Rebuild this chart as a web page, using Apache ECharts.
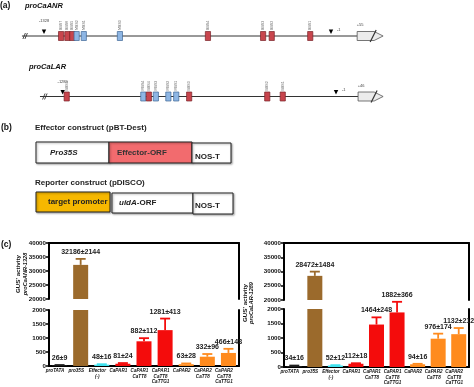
<!DOCTYPE html>
<html><head><meta charset="utf-8">
<script src="https://cdn.jsdelivr.net/npm/echarts@6/dist/echarts.min.js"></script>
<style>html,body{margin:0;padding:0;background:#fff}#c{width:474px;height:387px}</style>
</head><body><div id="c"></div>
<script>
// ---------- data ----------
const categories = ['proTATA','pro35S','Effector\n(-)','CaPAR1','CaPAR1\nCaTT8','CaPAR1\nCaTT8\nCaTTG1','CaPAR2','CaPAR2\nCaTT8','CaPAR2\nCaTT8\nCaTTG1'];
const groupOf = ['tata','p35s','eff','par1','par1','par1','par2','par2','par2'];
const anrMean = [26,32186,48,81,882,1281,63,332,466];
const anrErr  = [9,2144,16,24,112,413,28,96,148];
const larMean = [34,28472,52,112,1464,1882,94,976,1132];
const larErr  = [16,1484,12,18,248,366,16,174,212];
const lowerRange = [0,2000], lowerStep = 500;
const upperRange = [20000,40000], upperStep = 5000;

// promoter sites (bp relative to TSS)
const anrSites = [[-1249,'BBS7'],[-1220,'BBS6'],[-1197,'BBS5'],[-1177,'MBS2'],[-1144,'MBS1'],[-977,'MBS3'],[-570,'BBS4'],[-315,'BBS3'],[-275,'BBS2'],[-97,'BBS1']];
const larSites = [[-1270,'BBS5'],[-909,'MBS4'],[-883,'BBS4'],[-850,'MBS3'],[-791,'MBS2'],[-754,'MBS1'],[-693,'BBS3'],[-325,'BBS2'],[-252,'BBS1']];
const anrMarks = [[-1328,'-1328'],[-1,'-1']];
const larMarks = [[-1289,'-1289'],[-1,'-1']];
const anrBackbone = [-1430,-1414];   // start, break mark
const larBackbone = [-1396,-1372];
const anrGene = [120,240,'+55'];
const larGene = [103,221,'+46'];

// ---------- styles ----------
const FONT = 'Liberation Sans, Arial, sans-serif';
const COLORS = {tata:'#1e1e1e', p35s:'#9B6A2C', eff:'#3FE2EE', par1:'#F40C0C', par2:'#FF8B1E'};
const colorAt = i => COLORS[groupOf[i]];

function diagramSeries(gi, sites, marks, backbone, gene){
  const main = {
    type:'custom', xAxisIndex:gi, yAxisIndex:gi, clip:false, silent:true,
    data:[[0,0]],
    renderItem(params, api){
      const cy = api.coord([0,0])[1];
      const xs = api.coord([backbone[0],0])[0];
      const xb = api.coord([backbone[1],0])[0];
      const g0 = api.coord([gene[0],0])[0];
      const g1 = api.coord([gene[1],0])[0];
      const ch = [];
      ch.push({type:'line', shape:{x1:xs,y1:cy,x2:g0,y2:cy}, style:{stroke:'#333',lineWidth:1}});
      ch.push({type:'line', shape:{x1:xb-2.5,y1:cy+3,x2:xb,y2:cy-3}, style:{stroke:'#333',lineWidth:0.9}});
      ch.push({type:'line', shape:{x1:xb-0.5,y1:cy+3,x2:xb+2,y2:cy-3}, style:{stroke:'#333',lineWidth:0.9}});
      marks.forEach((m,k)=>{
        const x = api.coord([m[0],0])[0];
        ch.push({type:'polygon', shape:{points:[[x-2.2,cy-6.5],[x+2.2,cy-6.5],[x,cy-2]]}, style:{fill:'#000'}});
        if(k===0){
          ch.push({type:'text', x:x, y:cy-15, style:{text:m[1], align:'center', verticalAlign:'middle', fontSize:4, fontFamily:FONT, fill:'#444'}});
        } else {
          ch.push({type:'text', x:x+6, y:cy-6.5, style:{text:m[1], align:'left', verticalAlign:'middle', fontSize:4, fontFamily:FONT, fill:'#444'}});
        }
      });
      ch.push({type:'polygon', shape:{points:[[g0,cy-4.5],[g1-9,cy-4.5],[g1,cy],[g1-9,cy+4.5],[g0,cy+4.5]]},
               style:{fill:'#ececec', stroke:'#555', lineWidth:0.8}});
      ch.push({type:'line', shape:{x1:g0+13,y1:cy+6,x2:g0+19,y2:cy-6}, style:{stroke:'#333',lineWidth:1.2}});
      ch.push({type:'text', x:g0+3, y:cy-11, style:{text:gene[2], align:'center', verticalAlign:'middle', fontSize:4, fontFamily:FONT, fill:'#444'}});
      return {type:'group', children:ch};
    }
  };
  const boxes = {
    type:'custom', xAxisIndex:gi, yAxisIndex:gi, clip:false, silent:true, z:3,
    data: sites.map(s=>[s[0],0]),
    renderItem(params, api){
      const p = api.coord([api.value(0),0]);
      const name = sites[params.dataIndex][1];
      const isB = name.charAt(0)==='B';
      return {type:'group', children:[
        {type:'rect', shape:{x:p[0]-2.6,y:p[1]-4.5,width:5.2,height:9},
         style:{fill: isB?'#C8454D':'#8EB6E4', stroke: isB?'#7A2228':'#3F6797', lineWidth:0.7}},
        {type:'text', x:p[0], y:p[1]-6, rotation:Math.PI/2,
         style:{text:name, align:'left', verticalAlign:'middle', fontSize:3.6, fontFamily:FONT, fill:'#666'}}
      ]};
    }
  };
  return [main, boxes];
}

function barSeries(xi, yi, means, keep){
  return {type:'bar', xAxisIndex:xi, yAxisIndex:yi, barWidth:15, clip:true, silent:true,
    data: means.map((v,i)=>keep(v) ? {value:v, itemStyle:{color:colorAt(i)}} : '-')};
}
function errSeries(xi, yi, means, errs, keep){
  return {type:'custom', xAxisIndex:xi, yAxisIndex:yi, clip:false, silent:true, z:5,
    data: means.map((m,i)=>[i,m,errs[i]]).filter(d=>keep(d[1])),
    renderItem(params, api){
      const i=api.value(0), m=api.value(1), e=api.value(2);
      const p0=api.coord([i,m]), p1=api.coord([i,m+e]);
      const c=colorAt(i);
      return {type:'group', children:[
        {type:'line', shape:{x1:p0[0],y1:p0[1],x2:p1[0],y2:p1[1]}, style:{stroke:c,lineWidth:1.8}},
        {type:'line', shape:{x1:p1[0]-5,y1:p1[1],x2:p1[0]+5,y2:p1[1]}, style:{stroke:c,lineWidth:1.8}},
        {type:'text', x:p1[0], y:p1[1]-3.5, style:{text:m+'±'+e, align:'center', verticalAlign:'bottom',
          fontSize:7, fontWeight:'bold', fontFamily:FONT, fill:'#222'}}
      ]};
    }};
}

const AX = {lineStyle:{color:'#000', width:2}};
function valAxis(gi, range, step, showLabels, pos){
  return {type:'value', gridIndex:gi, min:range[0], max:range[1], interval:step, position:pos||'left',
    axisLine:{show:true, ...AX}, splitLine:{show:false},
    axisTick:{show:showLabels, length:3, lineStyle:{color:'#000', width:1.5}},
    axisLabel:{show:showLabels, margin:3, fontSize:6.2, fontWeight:'bold', fontFamily:FONT, color:'#111',
      formatter: v => String(v)}};
}
function catAxis(gi, pos, labels){
  return {type:'category', gridIndex:gi, data:categories, position:pos,
    axisLine:{show:true, onZero:false, ...AX}, axisTick:{show:false},
    axisLabel:{show:labels, interval:0, hideOverlap:false, margin:2.5, fontSize:4.6, lineHeight:5.2,
      fontWeight:'bold', fontStyle:'italic', fontFamily:FONT, color:'#111', padding:[0,9,0,0]}};
}
const hiddenX = gi => ({type:'value', gridIndex:gi, min:-1500, max:300, show:false});
const hiddenY = gi => ({type:'value', gridIndex:gi, min:-1, max:1, show:false});

const G = (l,r,t,h) => ({left:l, right:r, top:t, height:h, outerBoundsMode:'none', containLabel:false});
const keepLow = v => true;
const keepLowErr = v => v <= lowerRange[1];
const keepUp = v => v >= upperRange[0];

const T = (text, x, y, size, extra) => ({type:'text', x, y, style:Object.assign({text, fontSize:size, fontWeight:'bold',
  fontFamily:FONT, fill:'#111', align:'left', verticalAlign:'middle'}, extra||{})});
const R = (x,y,w,h,fill) => ({type:'rect', shape:{x,y,width:w,height:h}, style:{fill, stroke:'#222', lineWidth:1,
  shadowBlur:2, shadowOffsetX:1, shadowOffsetY:1, shadowColor:'rgba(0,0,0,0.35)'}});
const axisTitle = (x, y, second) => ({type:'text', x, y, rotation:Math.PI/2, style:{text:"{a|GUS' activity}\n{b|"+second+"}",
      rich:{a:{fontSize:6.2, fontWeight:'bold', fontFamily:FONT, fill:'#111', lineHeight:6.5},
            b:{fontSize:5.6, fontWeight:'bold', fontStyle:'italic', fontFamily:FONT, fill:'#111', lineHeight:6.5}},
      align:'center', verticalAlign:'middle'}});

const option = {
  animation:false,
  backgroundColor:'#fff',
  grid:[
    G(6.8, 77.9, 26, 20),
    G(17.9, 74.1, 86.5, 20),
    G(49, 235, 243, 56),
    G(49, 235, 310, 56),
    G(284, 5, 243, 57),
    G(284, 5, 309, 58)
  ],
  xAxis:[
    hiddenX(0), hiddenX(1),
    catAxis(2,'top',false), catAxis(3,'bottom',true),
    catAxis(4,'top',false), catAxis(5,'bottom',true)
  ],
  yAxis:[
    hiddenY(0), hiddenY(1),
    valAxis(2, upperRange, upperStep, true), valAxis(3, lowerRange, lowerStep, true),
    valAxis(4, upperRange, upperStep, true), valAxis(5, lowerRange, lowerStep, true),
    valAxis(2, upperRange, upperStep, false, 'right'), valAxis(3, lowerRange, lowerStep, false, 'right'),
    valAxis(4, upperRange, upperStep, false, 'right'), valAxis(5, lowerRange, lowerStep, false, 'right')
  ],
  series:[
    ...diagramSeries(0, anrSites, anrMarks, anrBackbone, anrGene),
    ...diagramSeries(1, larSites, larMarks, larBackbone, larGene),
    barSeries(2,2,anrMean,keepUp), barSeries(3,3,anrMean,keepLow),
    barSeries(4,4,larMean,keepUp), barSeries(5,5,larMean,keepLow),
    errSeries(2,2,anrMean,anrErr,keepUp), errSeries(3,3,anrMean,anrErr,keepLowErr),
    errSeries(4,4,larMean,larErr,keepUp), errSeries(5,5,larMean,larErr,keepLowErr)
  ],
  graphic:[
    T('(a)', 0, 6, 8.5),
    T('proCaANR', 25, 6, 7.5, {fontStyle:'italic'}),
    T('proCaLAR', 29, 67, 7.5, {fontStyle:'italic'}),
    T('(b)', 1, 128, 8.5),
    T('Effector construct (pBT-Dest)', 35, 128, 8, {fill:'#222'}),
    R(36,142,73,21,'#fff'), R(109,142,83,21,'#F26B6E'), R(192,143,39,20,'#fff'),
    T('Pro35S', 50, 152.5, 8, {fontStyle:'italic', fill:'#222'}),
    T('Effector-ORF', 117, 152.5, 8, {fill:'#333'}),
    T('NOS-T', 195, 157, 8, {fill:'#222'}),
    T('Reporter construct (pDISCO)', 35, 183, 8, {fill:'#222'}),
    R(36,192,74,20,'#F6B800'), R(112,193,81,20,'#fff'), R(193,193,40,21,'#fff'),
    T('target promoter', 48, 202, 8, {fill:'#222'}),
    {type:'text', x:119, y:203, style:{text:'{i|uidA}-ORF', rich:{i:{fontStyle:'italic', fontWeight:'bold', fontSize:8, fontFamily:FONT, fill:'#222'}},
      fontSize:8, fontWeight:'bold', fontFamily:FONT, fill:'#222', align:'left', verticalAlign:'middle'}},
    T('NOS-T', 195, 206, 8, {fill:'#222'}),
    T('(c)', 1, 245, 8.5),
    axisTitle(22, 274, 'proCaANR-1328'),
    axisTitle(248.5, 303, 'proCaLAR-1289')
  ]
};
const chart = echarts.init(document.getElementById('c'), null, {renderer:'canvas'});
chart.setOption(option);
</script></body></html>
